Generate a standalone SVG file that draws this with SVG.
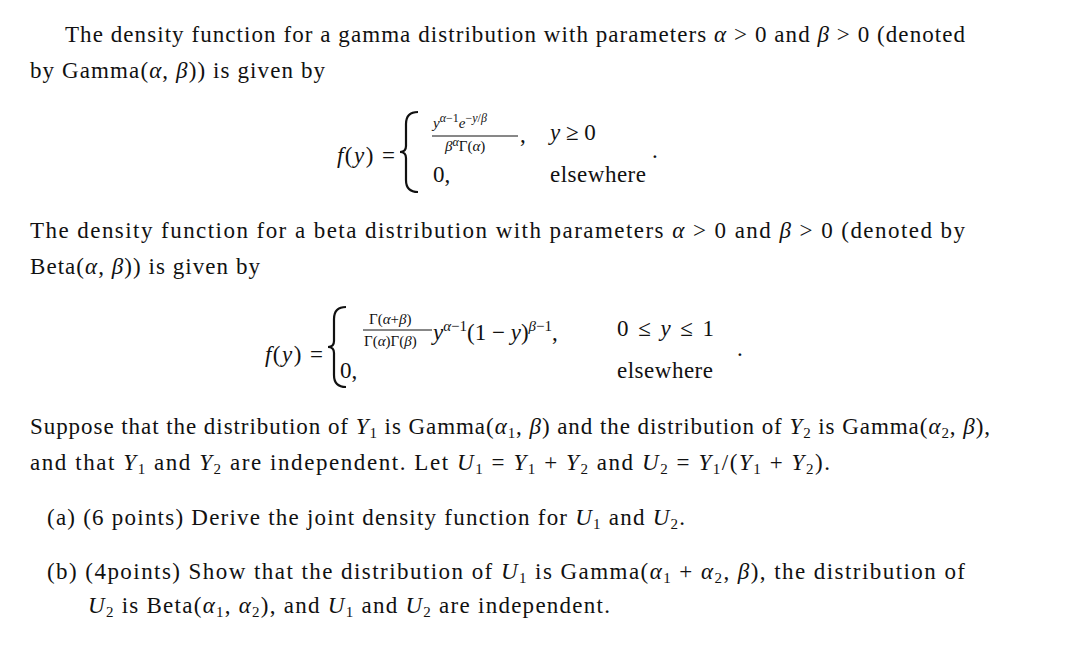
<svg xmlns="http://www.w3.org/2000/svg" width="1070" height="662" viewBox="0 0 1070 662">
<style>
text{font-family:"Liberation Serif","DejaVu Serif",serif;font-size:23px;fill:#111}
.i{font-style:italic}
.s{font-size:15px}
.t{font-size:12px}
</style>
<rect width="1070" height="662" fill="#fff"/>
<text x="65" y="42" textLength="900" lengthAdjust="spacing">The density function for a gamma distribution with parameters <tspan class="i">α</tspan> &gt; 0 and <tspan class="i">β</tspan> &gt; 0 (denoted</text>
<text x="30" y="78" textLength="295" lengthAdjust="spacing">by Gamma(<tspan class="i">α</tspan>, <tspan class="i">β</tspan>)) is given by</text>
<g id="gamma-formula">
<text x="337" y="163" textLength="58" lengthAdjust="spacing"><tspan class="i">f</tspan>(<tspan class="i">y</tspan>) =</text>
<path d="M418,112 Q406,112 406,124 L406,146 Q406,152 400,152 Q406,152 406,158 L406,180 Q406,192 418,192" fill="none" stroke="#111" stroke-width="2.2"/>
<text class="s" x="433" y="128"><tspan class="i">y</tspan><tspan class="t" dy="-6"><tspan class="i">α</tspan>−1</tspan><tspan class="i" dy="6">e</tspan><tspan class="t" dy="-6">−<tspan class="i">y</tspan>/<tspan class="i">β</tspan></tspan></text>
<line x1="432" y1="136" x2="518" y2="136" stroke="#111" stroke-width="1"/>
<text class="s" x="445" y="151"><tspan class="i">β</tspan><tspan class="t i" dy="-5">α</tspan><tspan dy="5">Γ(<tspan class="i">α</tspan>)</tspan></text>
<text x="520" y="142">,</text>
<text x="550" y="140"><tspan class="i">y</tspan> ≥ 0</text>
<text x="433" y="182">0,</text>
<text x="550" y="182" textLength="96" lengthAdjust="spacing">elsewhere</text>
<text x="652" y="158">.</text>
</g>
<text x="30" y="238" textLength="935" lengthAdjust="spacing">The density function for a beta distribution with parameters <tspan class="i">α</tspan> &gt; 0 and <tspan class="i">β</tspan> &gt; 0 (denoted by</text>
<text x="30" y="274" textLength="230" lengthAdjust="spacing">Beta(<tspan class="i">α</tspan>, <tspan class="i">β</tspan>)) is given by</text>
<g id="beta-formula">
<text x="265" y="362" textLength="58" lengthAdjust="spacing"><tspan class="i">f</tspan>(<tspan class="i">y</tspan>) =</text>
<path d="M346,307 Q334,307 334,319 L334,341 Q334,347 328,347 Q334,347 334,353 L334,375 Q334,387 346,387" fill="none" stroke="#111" stroke-width="2.2"/>
<text class="s" x="369" y="324">Γ(<tspan class="i">α</tspan>+<tspan class="i">β</tspan>)</text>
<line x1="363" y1="330" x2="432" y2="330" stroke="#111" stroke-width="1"/>
<text class="s" x="364" y="346">Γ(<tspan class="i">α</tspan>)Γ(<tspan class="i">β</tspan>)</text>
<text x="433" y="340"><tspan class="i">y</tspan><tspan class="s" dy="-9"><tspan class="i">α</tspan>−1</tspan><tspan dy="9">(1 − <tspan class="i">y</tspan>)</tspan><tspan class="s" dy="-9"><tspan class="i">β</tspan>−1</tspan><tspan dy="9">,</tspan></text>
<text x="617" y="336" textLength="97" lengthAdjust="spacing">0 ≤ <tspan class="i">y</tspan> ≤ 1</text>
<text x="340" y="378">0,</text>
<text x="617" y="378" textLength="96" lengthAdjust="spacing">elsewhere</text>
<text x="737" y="356">.</text>
</g>
<text x="30" y="434" textLength="960" lengthAdjust="spacing">Suppose that the distribution of <tspan class="i">Y</tspan><tspan class="s" dy="4">1</tspan><tspan dy="-4"> is Gamma(</tspan><tspan class="i">α</tspan><tspan class="s" dy="4">1</tspan><tspan dy="-4">, </tspan><tspan class="i">β</tspan>) and the distribution of <tspan class="i">Y</tspan><tspan class="s" dy="4">2</tspan><tspan dy="-4"> is Gamma(</tspan><tspan class="i">α</tspan><tspan class="s" dy="4">2</tspan><tspan dy="-4">, </tspan><tspan class="i">β</tspan>),</text>
<text x="30" y="470" textLength="800" lengthAdjust="spacing">and that <tspan class="i">Y</tspan><tspan class="s" dy="4">1</tspan><tspan dy="-4"> and </tspan><tspan class="i">Y</tspan><tspan class="s" dy="4">2</tspan><tspan dy="-4"> are independent. Let </tspan><tspan class="i">U</tspan><tspan class="s" dy="4">1</tspan><tspan dy="-4"> = </tspan><tspan class="i">Y</tspan><tspan class="s" dy="4">1</tspan><tspan dy="-4"> + </tspan><tspan class="i">Y</tspan><tspan class="s" dy="4">2</tspan><tspan dy="-4"> and </tspan><tspan class="i">U</tspan><tspan class="s" dy="4">2</tspan><tspan dy="-4"> = </tspan><tspan class="i">Y</tspan><tspan class="s" dy="4">1</tspan><tspan dy="-4">/(</tspan><tspan class="i">Y</tspan><tspan class="s" dy="4">1</tspan><tspan dy="-4"> + </tspan><tspan class="i">Y</tspan><tspan class="s" dy="4">2</tspan><tspan dy="-4">).</tspan></text>
<text x="47" y="525" textLength="638" lengthAdjust="spacing">(a) (6 points) Derive the joint density function for <tspan class="i">U</tspan><tspan class="s" dy="4">1</tspan><tspan dy="-4"> and </tspan><tspan class="i">U</tspan><tspan class="s" dy="4">2</tspan><tspan dy="-4">.</tspan></text>
<text x="47" y="579" textLength="918" lengthAdjust="spacing">(b) (4points) Show that the distribution of <tspan class="i">U</tspan><tspan class="s" dy="4">1</tspan><tspan dy="-4"> is Gamma(</tspan><tspan class="i">α</tspan><tspan class="s" dy="4">1</tspan><tspan dy="-4"> + </tspan><tspan class="i">α</tspan><tspan class="s" dy="4">2</tspan><tspan dy="-4">, </tspan><tspan class="i">β</tspan>), the distribution of</text>
<text x="88" y="613" textLength="522" lengthAdjust="spacing"><tspan class="i">U</tspan><tspan class="s" dy="4">2</tspan><tspan dy="-4"> is Beta(</tspan><tspan class="i">α</tspan><tspan class="s" dy="4">1</tspan><tspan dy="-4">, </tspan><tspan class="i">α</tspan><tspan class="s" dy="4">2</tspan><tspan dy="-4">), and </tspan><tspan class="i">U</tspan><tspan class="s" dy="4">1</tspan><tspan dy="-4"> and </tspan><tspan class="i">U</tspan><tspan class="s" dy="4">2</tspan><tspan dy="-4"> are independent.</tspan></text>
</svg>
